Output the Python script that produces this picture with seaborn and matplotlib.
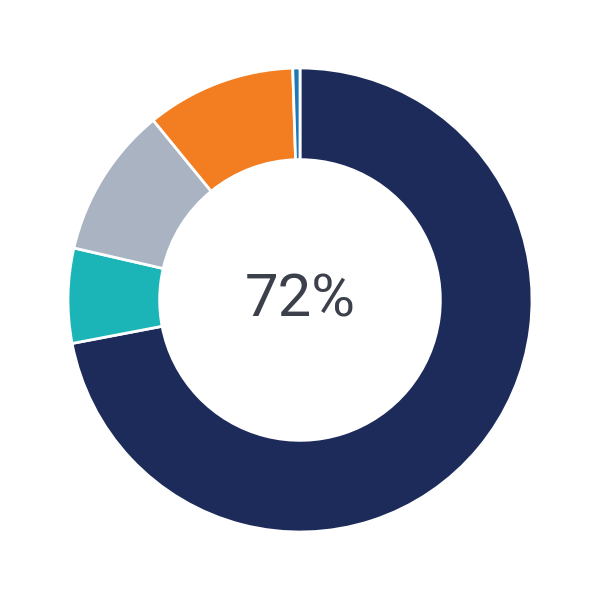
import numpy as np
import seaborn as sns
import matplotlib
matplotlib.use("Agg")
import matplotlib.pyplot as plt

# slice shares (percent), clockwise from 12 o'clock
labels = ["Navy", "Teal", "Gray", "Orange", "Blue"]
values = [72.0, 6.6, 10.5, 10.4, 0.5]
colors = ["#1c2b5a", "#1bb5b7", "#a9b3c1", "#f37e21", "#1f78b4"]
center_text = "72%"

sns.set_theme(style="white")
plt.rcParams["font.family"] = ["Roboto", "DejaVu Sans"]

fig = plt.figure(figsize=(6, 6), dpi=100)
ax = fig.add_axes([0, 0, 1, 1])

ax.pie(values, colors=colors, startangle=90, counterclock=False,
       radius=1.0,
       wedgeprops=dict(width=0.395, edgecolor="white", linewidth=2))

ax.text(0, 0, center_text, ha="center", va="center",
        fontsize=43, color="#3b404b")

lim = 300 / 232
ax.set_xlim(-lim, lim)
ax.set_ylim(-lim, lim)
ax.set_aspect("equal")
ax.axis("off")

fig.savefig("out.png", dpi=100, facecolor="white")
